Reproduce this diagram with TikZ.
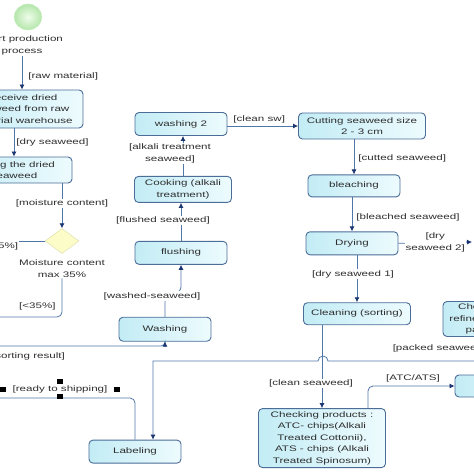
\documentclass[tikz,border=0pt]{standalone}
\usepackage{fontspec}
\setmainfont{Liberation Sans}[FakeStretch=1.45]
\usetikzlibrary{positioning, arrows.meta, shapes.geometric}
\definecolor{flowline}{HTML}{5076AA}
\definecolor{flowtip}{HTML}{1A3570}
\definecolor{boxline}{HTML}{4B6D98}
\definecolor{boxleft}{HTML}{C3ECF5}
\definecolor{boxright}{HTML}{EDFBFE}
\definecolor{txt}{HTML}{2E2E2E}
\definecolor{decfill}{HTML}{FCFCC8}
\definecolor{decline}{HTML}{DCDCA8}
\definecolor{startin}{HTML}{EEFCEA}
\definecolor{startout}{HTML}{B4E6AA}
\tikzset{
  activity/.style={draw=boxline, line width=0.9pt, rounded corners=4pt, left color=boxleft, right color=boxright, align=center, inner sep=2pt, minimum width=92pt, minimum height=23pt},
  flow/.style={draw=flowline, line width=0.8pt, -{Latex[length=5pt,width=5pt,color=flowtip]}},
  guard/.style={text=txt, inner sep=1pt, align=center},
  gap/.style={guard, fill=white},
  handle/.style={fill=black, minimum width=6pt, minimum height=5pt, inner sep=0pt}
}
\begin{document}
\begin{tikzpicture}[x=1pt, y=-1pt, font=\fontsize{8}{11.5}\selectfont, text=txt]
	\useasboundingbox (0,0) rectangle (474,474);
	\clip (0,0) rectangle (474,474);
	% left column
	\node[ellipse, draw=startout!60, inner color=startin, outer color=startout, minimum width=28pt, minimum height=26pt, inner sep=0pt] (start) at (28,17) {};
	\node[guard] (startlbl) at (22,45.5) {Start production\\process};
	\node[activity, minimum width=122pt, minimum height=38pt] (receive) at (22,109) {Receive dried\\seaweed from raw\\material warehouse};
	\node[activity, minimum width=116pt, minimum height=26pt] (dried) at (14,170) {Drying the dried\\seaweed};
	\node[diamond, draw=decline, fill=decfill, minimum width=34pt, minimum height=25pt, inner sep=0pt] (decision) at (62,241) {};
	\node[guard] (moistlbl) at (62,268.5) {Moisture content\\max 35\%};
	% middle column
	\node[activity] (washtwo) at (181,124) {washing 2};
	\node[activity, minimum width=97pt, minimum height=26pt, below=40pt of washtwo, xshift=2pt] (cooking) {Cooking (alkali\\treatment)};
	\node[activity, below=38pt of cooking, xshift=-2pt] (flushing) {flushing};
	\node[activity, minimum height=24pt, below=52pt of flushing, xshift=-16pt] (washing) {Washing};
	\node[activity, below=98pt of washing, xshift=-30pt] (labeling) {Labeling};
	% right column
	\node[activity, minimum width=127pt, minimum height=26pt] (cutting) at (362,126) {Cutting seaweed size\\2 - 3 cm};
	\node[activity, minimum height=22pt, below=35pt of cutting, xshift=-8pt] (bleaching) {bleaching};
	\node[activity, below=34pt of bleaching, xshift=-2pt] (drying) {Drying};
	\node[activity, minimum width=107pt, minimum height=22pt, below=47pt of drying, xshift=5pt] (cleaning) {Cleaning (sorting)};
	\node[activity, minimum width=127pt, minimum height=59pt, below=83pt of cleaning, xshift=-35pt] (checking) {Checking products :\\ATC- chips(Alkali\\Treated Cottonii),\\ATS - chips (Alkali\\Treated Spinosum)};
	\node[activity, minimum width=98pt, minimum height=35pt] (refined) at (492,319) {Checking the\\refined seaweed\\packaging};
	\node[activity, minimum height=22pt] (packing) at (501,386) {};
	
	\coordinate (gtOut) at (-10,241);
	\coordinate (ltOut) at (-10,317);
	\coordinate (sortIn) at (-10,346);
	\coordinate (shipOut) at (-10,398);
	\coordinate (dryOut) at (472,242);
	
	\draw[flow] (startlbl.south) -- node[guard, right=5pt, pos=.6] {[raw material]} (receive.north);
	\draw[flow] (receive.south -| dried.north) -- node[guard, right=1pt] {[dry seaweed]} (dried.north);
	\draw[flow] (dried.south -| decision.north) -- node[gap, pos=.45] {[moisture content]} (decision.north);
	\draw[flow] (decision.west) -- node[gap, pos=.82, yshift=-5pt] {[>35\%]} (gtOut);
	\draw[flow, rounded corners=5pt] (moistlbl.south) |- node[guard, pos=.36, left=5pt] {[<35\%]} (ltOut);
	\draw[flow, rounded corners=4pt] (sortIn) -| node[guard, pos=.11, below=5pt] {[sorting result]} (washing.south);
	\draw[flow, rounded corners=6pt] (washing.north) |- ([yshift=-28pt]flushing.south) -- (flushing.south);
	\node[gap] (washedlbl) at (152,296) {[washed-seaweed]};
	\draw[flow] (flushing.north) -- node[gap, pos=.54, xshift=-18pt] {[flushed seaweed]} (flushing.north |- cooking.south);
	\draw[flow] (cooking.north) -- node[gap, pos=.56, xshift=-13pt] {[alkali treatment\\seaweed]} (cooking.north |- washtwo.south);
	\draw[flow] (washtwo.east |- cutting.west) -- node[guard, above=1pt, pos=.45] {[clean sw]} (cutting.west);
	\draw[flow] (cutting.south -| bleaching.north) -- node[guard, right=3pt, pos=.55] {[cutted seaweed]} (bleaching.north);
	\draw[flow] (bleaching.south -| drying.north) -- node[guard, right=3pt, pos=.6] {[bleached seaweed]} (drying.north);
	\draw[flow] (drying.south -| cleaning.north) -- node[gap, pos=.4, xshift=-4pt] {[dry seaweed 1]} (cleaning.north);
	\draw[flow] (drying.east) -- node[gap] {[dry\\seaweed 2]} (dryOut);
	\draw[flow] (cleaning.south -| checking.north) -- node[gap, pos=.7, xshift=-11pt] {[clean seaweed]} (checking.north);
	\draw[flow, rounded corners=5pt] ([xshift=46pt]checking.north) |- node[guard, above=2pt, pos=.76] {[ATC/ATS]} (packing.west);
	\draw[flow] (refined.south) |- node[guard, above=7pt, pos=.66] {[packed seaweed]} (328,361) arc[start angle=0, end angle=180, radius=5pt] -- (153,361) [rounded corners=5pt] -- ([xshift=18pt]labeling.north);
	\draw[flow, rounded corners=5pt] (labeling.north) |- (shipOut);
	\node[guard, inner xsep=9pt, inner ysep=3.3pt] (shiplbl) at (60,389) {[ready to shipping]};
	\node[handle] (hw) at (shiplbl.west) {};
	\node[handle] (he) at (shiplbl.east) {};
	\node[handle] (hn) at (shiplbl.north) {};
	\node[handle] (hs) at (shiplbl.south) {};
\end{tikzpicture}
\end{document}
